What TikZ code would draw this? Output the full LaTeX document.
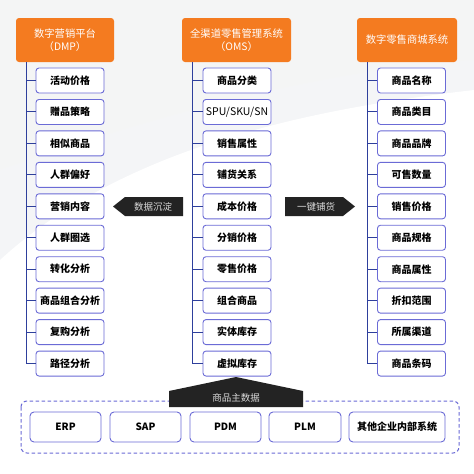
\documentclass[tikz,border=0pt]{standalone}
\usepackage{fontspec}
\setmainfont{Noto Sans CJK SC}
\usetikzlibrary{calc}
\definecolor{hdr}{HTML}{F47B20}
\definecolor{boxb}{HTML}{6B6BD6}
\definecolor{linec}{HTML}{2E3F9C}
\definecolor{dark}{HTML}{232323}
\definecolor{bg}{HTML}{F4F5F7}
\begin{document}
\begin{tikzpicture}[x=1pt,y=-1pt,
  hdrbox/.style={fill=hdr,rounded corners=3pt,text=white,font=\fontsize{10.3}{13.5}\selectfont,align=center,inner sep=0pt},
  itembox/.style={draw=boxb,line width=0.9pt,fill=white,rounded corners=3pt,minimum width=68pt,minimum height=25pt,inner sep=0pt,font=\fontsize{10}{12}\selectfont\bfseries},
  srcbox/.style={draw=boxb,line width=0.9pt,fill=white,rounded corners=4pt,minimum height=30pt,inner sep=0pt,font=\fontsize{10}{12}\selectfont\bfseries},
  trunk/.style={draw=linec,line width=1pt},
  tag/.style={fill=dark,draw=none},
  tagtext/.style={text=white!85!black,font=\fontsize{9.5}{11}\selectfont,inner sep=0pt}
]
\useasboundingbox (0,0) rectangle (474,474);
\fill[bg] (0,0) rectangle (474,474);
\fill[white] (0,474) -- (0,260) .. controls (120,150) and (300,110) .. (474,90) -- (474,474) -- cycle;
\fill[white!96!black,opacity=0.5] (0,0) -- (474,0) -- (474,60) .. controls (330,70) and (170,110) .. (0,170) -- cycle;

% headers
\node[hdrbox,minimum width=98pt,minimum height=44pt] (hL) at (65,40) {数字营销平台\\（DMP）};
\node[hdrbox,minimum width=109pt,minimum height=44pt] (hM) at (236.5,40) {全渠道零售管理系统\\（OMS）};
\node[hdrbox,minimum width=100pt,minimum height=44pt] (hR) at (407,40) {数字零售商城系统};

\coordinate (Ltop) at (26,62);
\coordinate (Mtop) at (192,62);
\coordinate (Rtop) at (367,62);

% items
\foreach \t [count=\i from 0] in {活动价格,赠品策略,相似商品,人群偏好,营销内容,人群圈选,转化分析,商品组合分析,复购分析,路径分析}{
  \node[itembox] (L\i) at (70,80.5+\i*31.45) {\t};
}
\foreach \t [count=\i from 0] in {商品分类,{\mdseries\fontsize{10.5}{12}\selectfont SPU/SKU/SN},销售属性,铺货关系,成本价格,分销价格,零售价格,组合商品,实体库存,虚拟库存}{
  \node[itembox] (M\i) at (237,80.5+\i*31.45) {\t};
}
\foreach \t [count=\i from 0] in {商品名称,商品类目,商品品牌,可售数量,销售价格,商品规格,商品属性,折扣范围,所属渠道,商品条码}{
  \node[itembox] (R\i) at (411.5,80.5+\i*31.45) {\t};
}

% trunks
\draw[trunk] (Ltop) |- (L9.west);
\draw[trunk] (Mtop) |- (M9.west);
\draw[trunk] (Rtop) |- (R9.west);
\foreach \i in {0,...,8}{
  \draw[trunk] (L\i.west -| Ltop) -- (L\i.west);
  \draw[trunk] (M\i.west -| Mtop) -- (M\i.west);
  \draw[trunk] (R\i.west -| Rtop) -- (R\i.west);
}

% tags
\fill[tag] (113,206.5) -- (125,197) -- (183,197) -- (183,216) -- (125,216) -- cycle;
\node[tagtext] (tL) at (153,206.5) {数据沉淀};
\fill[tag] (285,197) -- (343,197) -- (355,206.5) -- (343,216) -- (285,216) -- cycle;
\node[tagtext] (tR) at (316,206.5) {一键铺货};

% bottom
\draw[boxb,line width=1pt,dash pattern=on 3.5pt off 2.5pt,rounded corners=6pt] (21,401) rectangle (459,453);
\fill[dark] (236,377) -- (303,391) -- (303,407) -- (169,407) -- (169,391) -- cycle;
\node[tagtext] (mdata) at (236,398) {商品主数据};

\node[srcbox,minimum width=71pt] (s1) at (65.5,427) {ERP};
\node[srcbox,minimum width=71pt] (s2) at (145.5,427) {SAP};
\node[srcbox,minimum width=71pt] (s3) at (225.5,427) {PDM};
\node[srcbox,minimum width=72pt] (s4) at (305,427) {PLM};
\node[srcbox,minimum width=96pt] (s5) at (397,427) {其他企业内部系统};
\end{tikzpicture}
\end{document}
